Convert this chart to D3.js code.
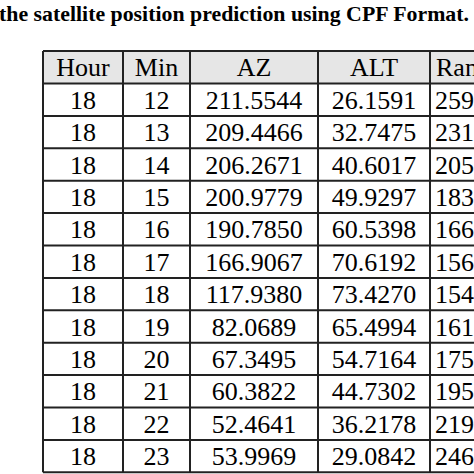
<!DOCTYPE html>
<html><head><meta charset="utf-8">
<script src="https://cdn.jsdelivr.net/npm/d3@7"></script>
<style>body{margin:0;background:#fff}svg{display:block}</style>
</head><body><div id="table"></div>
<script>
const title = "the satellite position prediction using CPF Format.";
const columns = ["Hour", "Min", "AZ", "ALT", "Range"];
const hours = [18, 18, 18, 18, 18, 18, 18, 18, 18, 18, 18, 18];
const mins = [12, 13, 14, 15, 16, 17, 18, 19, 20, 21, 22, 23];
const az = ["211.5544", "209.4466", "206.2671", "200.9779", "190.7850", "166.9067", "117.9380", "82.0689", "67.3495", "60.3822", "52.4641", "53.9969"];
const alt = ["26.1591", "32.7475", "40.6017", "49.9297", "60.5398", "70.6192", "73.4270", "65.4994", "54.7164", "44.7302", "36.2178", "29.0842"];
const range = ["2591.42", "2318.77", "2054.30", "1836.15", "1662.48", "1568.91", "1547.36", "1612.05", "1759.83", "1958.64", "2192.27", "2460.58"];

var w = 474, h = 474;
var edges = [43, 123, 190, 318, 430, 560];
var top0 = 51, headH = 32.5, rowH = 32.4;
var font = "26px 'Liberation Serif', 'Times New Roman', serif";

var svg = d3.select("#table").append("svg").attr("width", w).attr("height", h);

var yScale = d3.scaleLinear().domain([0, 1]).range([top0 + headH, top0 + headH + rowH]);

svg.append("text")
  .attr("x", -1).attr("y", 21)
  .attr("textLength", 470).attr("lengthAdjust", "spacingAndGlyphs")
  .style("font", "bold 21px 'Liberation Serif', 'Times New Roman', serif")
  .text(title);

var rows = mins.map((m, i) => [hours[i], m, az[i], alt[i], range[i]]);

// header
svg.selectAll("rect.head").data(columns).enter().append("rect")
  .attr("class", "head")
  .attr("x", (d, j) => edges[j]).attr("y", top0)
  .attr("width", (d, j) => edges[j + 1] - edges[j]).attr("height", headH)
  .attr("fill", "#e6e6e6");

svg.selectAll("text.head").data(columns).enter().append("text")
  .attr("class", "head")
  .attr("x", (d, j) => j == 4 ? edges[4] + 6 : (edges[j] + edges[j + 1]) / 2)
  .attr("y", top0 + headH / 2 + 9)
  .attr("text-anchor", (d, j) => j == 4 ? "start" : "middle")
  .style("font", font)
  .text(d => d);

var g = svg.selectAll("g.row").data(rows).enter().append("g").attr("class", "row")
  .attr("transform", (d, i) => "translate(0," + (yScale(i) + rowH / 2 + 9) + ")");
g.selectAll("text").data(d => d).enter().append("text")
  .attr("x", (d, j) => j == 4 ? edges[4] + 5 : (edges[j] + edges[j + 1]) / 2)
  .attr("text-anchor", (d, j) => j == 4 ? "start" : "middle")
  .style("font", font)
  .text(d => d);

// grid lines
var bottom = yScale(rows.length);
svg.selectAll("line.v").data(edges.slice(0, 5)).enter().append("line")
  .attr("x1", d => d).attr("x2", d => d)
  .attr("y1", top0).attr("y2", bottom)
  .attr("stroke", "#222").attr("stroke-width", 2);
var hy = [top0].concat(d3.range(rows.length + 1).map(i => yScale(i)));
svg.selectAll("line.h").data(hy).enter().append("line")
  .attr("x1", edges[0]).attr("x2", w)
  .attr("y1", d => d).attr("y2", d => d)
  .attr("stroke", "#222").attr("stroke-width", 2);
</script></body></html>
